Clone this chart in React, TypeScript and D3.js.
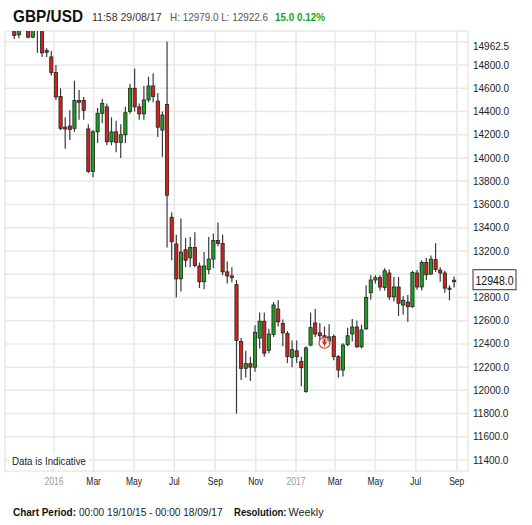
import * as d3 from "d3";

// weekly GBP/USD candles, Monday of each week
const weeks = d3.timeMonday.range(new Date(2015, 10, 2), new Date(2017, 8, 1));

const opens = [
  15440, 15060, 15230, 15220, 15040, 15110, 15150, 14925, 14870, 14735,
  14530, 14265, 14275, 14255, 14495, 14495, 14250, 13885, 14225, 14385,
  14440, 14140, 14225, 14135, 14200, 14400, 14600, 14440, 14380, 14500,
  14620, 14490, 14240, 14460, 13490, 13260, 12960, 13210, 13140, 13230,
  13070, 12935, 13040, 13130, 13290, 13265, 13020, 12985, 12910, 12420,
  12190, 12230, 12200, 12450, 12595, 12345, 12480, 12700, 12575, 12490,
  12285, 12340, 12250, 11990, 12390, 12580, 12495, 12470, 12425, 12465,
  12290, 12175, 12395, 12485, 12545, 12375, 12530, 12840, 12950, 12970,
  12885, 13010, 12805, 12890, 12735, 12760, 12720, 13010, 12890, 13100,
  13000, 13125, 13035, 13010, 12880, 12935,
];
const highs = [
  15510, 15240, 15330, 15240, 15120, 15240, 15240, 14945, 14920, 14800,
  14600, 14350, 14410, 14665, 14585, 14525, 14290, 14240, 14430, 14510,
  14470, 14350, 14320, 14290, 14440, 14640, 14770, 14470, 14620, 14700,
  14730, 14560, 14400, 15000, 13530, 13340, 13480, 13310, 13320, 13360,
  13100, 13190, 13320, 13350, 13445, 13340, 13110, 13060, 12950, 12450,
  12340, 12290, 12560, 12670, 12670, 12530, 12760, 12775, 12610, 12510,
  12430, 12430, 12290, 12380, 12670, 12700, 12580, 12550, 12570, 12480,
  12305, 12405, 12540, 12615, 12600, 12565, 12905, 12990, 12990, 12990,
  13050, 13040, 12975, 12975, 12810, 12820, 13030, 13035, 13120, 13140,
  13160, 13267, 13060, 13030, 12905, 12979,
];
const lows = [
  15025, 15030, 15170, 15030, 15030, 14905, 14870, 14870, 14710, 14500,
  14240, 14080, 14155, 14225, 14330, 14330, 13870, 13835, 14130, 14300,
  14110, 14110, 14050, 14000, 14130, 14380, 14400, 14330, 14330, 14480,
  14480, 14180, 14010, 13230, 13120, 12800, 12850, 13060, 13060, 13060,
  12880, 12870, 13000, 13050, 13240, 12990, 12920, 12930, 11800, 12090,
  12110, 12080, 12160, 12360, 12290, 12320, 12460, 12550, 12380, 12235,
  12200, 12235, 12035, 11980, 12380, 12460, 12420, 12375, 12400, 12260,
  12110, 12120, 12380, 12420, 12365, 12360, 12520, 12780, 12920, 12860,
  12860, 12780, 12765, 12640, 12650, 12590, 12710, 12865, 12860, 12950,
  12995, 13020, 12935, 12840, 12775, 12885,
];
const closes = [
  15055, 15230, 15220, 15040, 15110, 15150, 14905, 14910, 14735, 14525,
  14255, 14250, 14245, 14495, 14480, 14410, 13885, 14225, 14385, 14470,
  14140, 14225, 14135, 14200, 14390, 14600, 14440, 14380, 14500, 14620,
  14530, 14265, 14370, 13680, 13280, 12960, 13190, 13120, 13230, 13075,
  12935, 13070, 13130, 13290, 13265, 13020, 12985, 12970, 12430, 12190,
  12230, 12200, 12500, 12595, 12320, 12485, 12735, 12590, 12495, 12290,
  12350, 12290, 12195, 12365, 12540, 12485, 12470, 12410, 12460, 12290,
  12175, 12390, 12470, 12545, 12375, 12520, 12800, 12950, 12970, 12890,
  13030, 12805, 12890, 12750, 12775, 12720, 13015, 12890, 13100, 12995,
  13130, 13040, 13010, 12880, 12870, 12948,
];

const gridLevels = d3.range(11400, 15001, 200);
const levelLabels = d3.range(11400, 14801, 200);
const topLabel = 14962.5;
const lastPrice = 12948.0;
const eventWeek = new Date(2017, 1, 13);
const eventLevel = 12410;

const plot = { left: 5, right: 468, top: 31, bottom: 471 };
const font = "'Liberation Sans', Arial, Helvetica, sans-serif";
const upColor = "#1f9d1f";
const downColor = "#d0231d";

export default function App() {
  const x = d3
    .scaleTime()
    .domain([new Date(2015, 9, 19), new Date(2017, 8, 18)])
    .range([plot.left, plot.right]);
  const y = d3.scaleLinear().domain([11306, 15093]).range([plot.bottom, plot.top]);

  const monthTicks = d3.timeMonth.every(2)!.range(new Date(2016, 0, 1), new Date(2017, 8, 2));
  const fmt = d3.format(".1f");
  const bodyW = 3.2;

  const ex = x(eventWeek);
  const ey = y(eventLevel);

  return (
    <svg
      width={532}
      height={525}
      style={{ position: "absolute", left: 0, top: 0, background: "#fff" }}
      fontFamily={font}
    >
      <defs>
        <clipPath id="plotClip">
          <rect x={plot.left} y={plot.top} width={plot.right - plot.left} height={plot.bottom - plot.top} />
        </clipPath>
      </defs>

      {/* header */}
      <text x={13} y={21.5} fontSize={16.5} fontWeight="bold" fill="#111" textLength={70} lengthAdjust="spacingAndGlyphs">
        GBP/USD
      </text>
      <text x={92} y={21} fontSize={11} fill="#333" textLength={69.5} lengthAdjust="spacingAndGlyphs">
        11:58 29/08/17
      </text>
      <text x={170} y={21} fontSize={11} fill="#555" textLength={98} lengthAdjust="spacingAndGlyphs">
        H: 12979.0 L: 12922.6
      </text>
      <text x={275} y={21} fontSize={11} fontWeight="bold" fill="#1aa31a" textLength={50} lengthAdjust="spacingAndGlyphs">
        15.0 0.12%
      </text>

      {/* grid */}
      <g stroke="#e8e8e8" strokeWidth={1.5}>
        {gridLevels.map((v) => (
          <line key={v} x1={plot.left} x2={plot.right} y1={y(v)} y2={y(v)} />
        ))}
        {monthTicks.map((d) => (
          <line key={+d} x1={x(d)} x2={x(d)} y1={plot.top} y2={plot.bottom} />
        ))}
      </g>
      <rect
        x={plot.left}
        y={plot.top}
        width={plot.right - plot.left}
        height={plot.bottom - plot.top}
        fill="none"
        stroke="#dedede"
        strokeWidth={1}
      />

      {/* candles */}
      <g clipPath="url(#plotClip)">
        {weeks.map((d, i) => {
          const cx = x(d);
          const o = opens[i];
          const c = closes[i];
          const top = y(Math.max(o, c));
          const h = Math.max(1, y(Math.min(o, c)) - top);
          return (
            <g key={i}>
              <line x1={cx} x2={cx} y1={y(highs[i])} y2={y(lows[i])} stroke="#3a3a3a" strokeWidth={1.2} />
              <rect
                x={cx - bodyW / 2}
                y={top}
                width={bodyW}
                height={h}
                fill={c >= o ? upColor : downColor}
                stroke="#222"
                strokeWidth={0.8}
              />
            </g>
          );
        })}
        {/* event marker */}
        <circle cx={ex} cy={ey} r={5.5} fill="rgba(255,255,255,0.55)" stroke="#e03a3a" strokeWidth={1.2} />
        <line x1={ex} x2={ex} y1={ey - 3.5} y2={ey} stroke="#d92020" strokeWidth={1.4} />
        <path d={`M${ex - 2.5},${ey - 0.5} L${ex + 2.5},${ey - 0.5} L${ex},${ey + 2.8} Z`} fill="#d92020" />
      </g>

      {/* y labels (the 13000 one sits under the last-price box, as in the source) */}
      <g fontSize={10} fill="#222">
        {levelLabels.map((v) => (
          <text key={v} x={473} y={y(v) + 3.6}>
            {fmt(v)}
          </text>
        ))}
        <text x={473} y={y(topLabel) + 3.6}>
          {fmt(topLabel)}
        </text>
      </g>

      {/* last price box */}
      <rect x={473} y={y(lastPrice) - 10.5} width={43} height={20} fill="#fff" stroke="#333" strokeWidth={1} />
      <text x={475.5} y={y(lastPrice) + 4.6} fontSize={13} fill="#111" textLength={38} lengthAdjust="spacingAndGlyphs">
        {fmt(lastPrice)}
      </text>

      {/* x labels */}
      <g fontSize={10}>
        {monthTicks.map((d) => {
          const isYear = d.getMonth() === 0;
          return (
            <g key={+d} transform={`translate(${x(d)},485) scale(0.85,1)`}>
              <text textAnchor="middle" fill={isYear ? "#9a9a9a" : "#222"}>
                {isYear ? d3.timeFormat("%Y")(d) : d3.timeFormat("%b")(d)}
              </text>
            </g>
          );
        })}
      </g>

      {/* data note */}
      <rect x={9} y={453} width={80} height={15} fill="#fff" />
      <text x={12} y={465} fontSize={11} fill="#222" textLength={74} lengthAdjust="spacingAndGlyphs">
        Data is Indicative
      </text>

      {/* footer */}
      <text x={13} y={516} fontSize={10.5} fontWeight="bold" fill="#111" textLength={63} lengthAdjust="spacingAndGlyphs">
        Chart Period:
      </text>
      <text x={79} y={516} fontSize={10.5} fill="#222" textLength={143.5} lengthAdjust="spacingAndGlyphs">
        00:00 19/10/15 - 00:00 18/09/17
      </text>
      <text x={234} y={516} fontSize={10.5} fontWeight="bold" fill="#111" textLength={52.5} lengthAdjust="spacingAndGlyphs">
        Resolution:
      </text>
      <text x={288.5} y={516} fontSize={10.5} fill="#222" textLength={35} lengthAdjust="spacingAndGlyphs">
        Weekly
      </text>
    </svg>
  );
}
